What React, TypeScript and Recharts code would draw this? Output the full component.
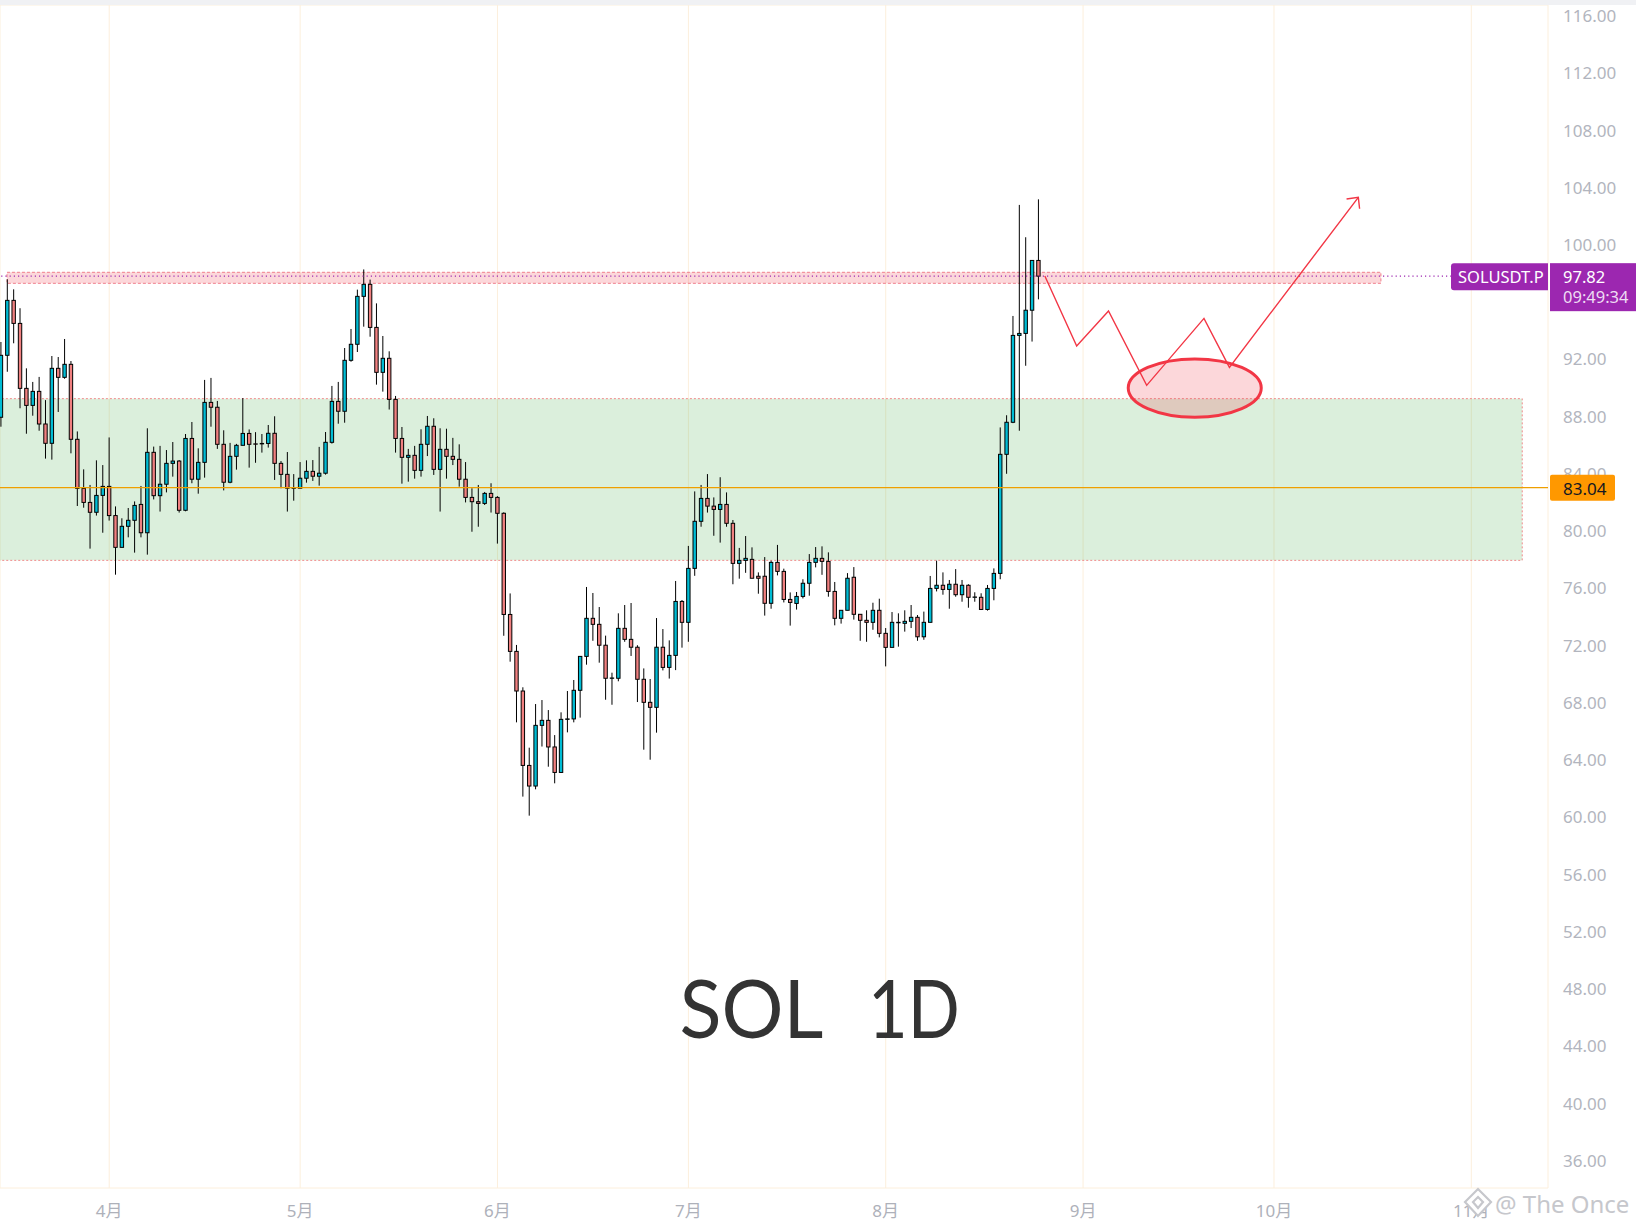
import React from 'react';
import {
  ComposedChart,
  Bar,
  Line,
  XAxis,
  YAxis,
  CartesianGrid,
  ReferenceArea,
  ReferenceLine,
} from 'recharts';

// daily candles, index 0 = 15 Mar
const opens = [
  87.96, 92.29, 96.13, 94.52, 89.98, 88.79, 89.77, 87.49, 86.14, 91.38,
  90.75, 91.66, 86.42, 82.99, 82.01, 81.32, 82.5, 83.13, 81.09, 78.87,
  80.34, 80.76, 81.87, 79.89, 85.51, 82.48, 83.28, 84.74, 84.9, 81.46,
  86.48, 83.63, 84.81, 89.0, 88.66, 86.07, 83.42, 85.23, 86.0, 86.83,
  86.1, 86.1, 86.13, 86.84, 84.74, 83.97, 83.0, 83.0, 83.7, 84.18,
  83.84, 84.05, 86.21, 89.07, 88.38, 91.94, 93.06, 96.41, 97.25, 94.24,
  91.1, 92.08, 89.21, 86.48, 85.16, 85.3, 84.25, 86.07, 87.33, 84.32,
  85.72, 85.23, 85.02, 83.63, 82.36, 82.06, 81.94, 82.64, 82.36, 81.25,
  74.18, 71.6, 68.83, 63.63, 62.19, 66.43, 66.78, 64.92, 63.14, 66.85,
  66.88, 68.88, 71.25, 73.91, 73.49, 72.03, 69.72, 69.72, 73.21, 72.44,
  71.89, 69.65, 68.04, 67.69, 71.89, 70.48, 71.32, 75.09, 73.63, 77.4,
  80.69, 82.29, 81.75, 81.52, 81.87, 80.55, 77.75, 77.96, 78.03, 76.85,
  76.85, 74.96, 77.82, 77.19, 75.23, 74.95, 75.44, 76.36, 77.82, 78.1,
  77.89, 75.79, 73.91, 74.47, 76.78, 74.19, 73.77, 73.63, 74.47, 72.86,
  71.88, 73.63, 73.56, 73.7, 73.98, 72.62, 73.63, 76.0, 76.22, 75.93,
  76.29, 75.56, 76.22, 75.38, 75.38, 74.53, 76.0, 77.05, 85.37, 87.61,
  93.68, 93.82, 95.44, 98.92,
];
const highs = [
  93.22, 97.6, 96.9, 95.58, 91.38, 90.43, 90.78, 89.16, 92.24, 92.17,
  93.43, 91.89, 86.97, 84.32, 83.23, 84.95, 84.62, 86.55, 81.73, 80.9,
  81.62, 82.08, 83.16, 87.19, 85.91, 85.96, 85.67, 86.23, 84.97, 86.79,
  87.63, 85.79, 90.57, 90.71, 89.1, 87.05, 86.17, 86.1, 89.3, 87.11,
  86.92, 86.79, 87.42, 88.03, 84.9, 85.53, 83.99, 84.83, 84.95, 84.97,
  85.89, 86.93, 90.15, 90.43, 92.8, 94.13, 96.88, 98.29, 97.58, 95.92,
  93.64, 92.57, 89.45, 87.28, 85.75, 85.96, 87.12, 88.05, 87.89, 87.19,
  87.16, 86.52, 86.07, 84.83, 83.0, 83.23, 82.74, 83.35, 82.45, 81.32,
  75.65, 72.05, 69.09, 64.87, 67.92, 68.2, 67.5, 65.75, 67.34, 68.83,
  69.6, 71.25, 76.1, 75.68, 74.7, 72.7, 70.11, 74.26, 74.84, 74.98,
  72.03, 70.41, 69.67, 73.93, 73.16, 72.37, 76.52, 75.19, 78.97, 82.78,
  83.23, 83.99, 82.36, 83.77, 82.71, 80.78, 78.83, 79.66, 78.87, 77.12,
  78.19, 77.94, 79.04, 77.38, 75.72, 75.75, 76.64, 78.4, 78.89, 78.94,
  78.52, 76.45, 74.47, 77.07, 77.49, 74.19, 74.47, 75.0, 75.28, 73.23,
  74.35, 74.26, 74.47, 74.84, 74.14, 74.38, 76.87, 77.94, 77.12, 76.59,
  77.35, 76.59, 76.29, 75.73, 75.66, 76.24, 77.4, 87.25, 88.1, 95.04,
  102.8, 100.54, 98.92, 103.19,
];
const lows = [
  87.3, 91.14, 93.13, 88.59, 86.81, 88.07, 87.02, 85.07, 85.0, 88.33,
  90.65, 85.44, 81.76, 81.64, 78.78, 81.09, 79.89, 80.74, 76.96, 78.87,
  79.57, 78.5, 79.57, 78.36, 82.22, 81.37, 82.71, 83.81, 81.3, 81.39,
  83.35, 82.62, 83.74, 87.3, 85.75, 82.85, 83.35, 84.3, 86.0, 84.44,
  84.78, 85.49, 85.84, 83.58, 83.0, 81.37, 82.13, 83.0, 83.39, 83.51,
  83.18, 83.95, 86.12, 87.51, 87.58, 91.84, 92.52, 94.29, 93.59, 90.24,
  89.75, 88.5, 85.49, 83.32, 83.46, 83.67, 83.81, 85.25, 83.93, 81.37,
  83.67, 84.62, 83.11, 82.01, 79.96, 80.31, 81.83, 81.3, 79.13, 72.69,
  70.88, 66.64, 61.45, 60.12, 61.96, 64.95, 63.54, 62.38, 63.14, 65.94,
  66.64, 66.97, 70.67, 72.34, 70.81, 68.22, 67.87, 69.51, 72.27, 71.28,
  68.06, 64.73, 64.03, 65.92, 70.27, 69.7, 70.29, 71.86, 72.27, 76.88,
  80.31, 81.3, 79.68, 79.2, 80.31, 76.29, 76.68, 77.09, 76.71, 75.63,
  74.1, 74.58, 76.91, 75.02, 73.4, 74.52, 75.3, 75.49, 77.47, 76.95,
  75.42, 73.42, 73.54, 74.47, 73.82, 72.34, 72.27, 73.11, 72.58, 70.55,
  71.88, 71.93, 72.98, 73.23, 72.34, 72.41, 73.63, 75.79, 75.56, 74.58,
  75.42, 75.07, 74.65, 75.07, 74.49, 74.45, 75.17, 76.64, 84.01, 87.55,
  87.02, 91.56, 93.25, 96.2,
];
const closes = [
  92.29, 96.13, 94.52, 89.98, 88.79, 89.77, 87.49, 86.14, 91.38, 90.75,
  91.66, 86.42, 82.99, 82.01, 81.32, 82.5, 83.13, 81.09, 78.87, 80.34,
  80.76, 81.8, 79.89, 85.51, 82.48, 83.28, 84.74, 84.9, 81.46, 86.48,
  83.63, 84.81, 89.0, 88.66, 86.07, 83.42, 85.23, 86.0, 86.83, 86.07,
  86.08, 86.13, 86.84, 84.74, 83.97, 83.0, 83.02, 83.7, 84.18, 83.84,
  84.05, 86.21, 89.07, 88.38, 91.94, 93.06, 96.41, 97.25, 94.24, 91.1,
  92.08, 89.21, 86.48, 85.16, 85.3, 84.25, 86.07, 87.33, 84.32, 85.72,
  85.23, 85.02, 83.63, 82.36, 82.06, 81.94, 82.64, 82.36, 81.25, 74.18,
  71.6, 68.83, 63.63, 62.19, 66.43, 66.78, 64.92, 63.14, 66.85, 66.88,
  68.88, 71.25, 73.91, 73.49, 72.03, 69.72, 69.74, 73.21, 72.44, 71.89,
  69.65, 68.04, 67.69, 71.89, 70.48, 71.32, 75.09, 73.63, 77.4, 80.69,
  82.29, 81.75, 81.52, 81.87, 80.55, 77.75, 77.96, 78.1, 76.71, 76.71,
  74.96, 77.82, 77.19, 75.23, 75.02, 75.44, 76.36, 77.82, 78.1, 77.89,
  75.79, 73.91, 74.47, 76.71, 74.19, 73.77, 73.63, 74.47, 72.86, 71.88,
  73.63, 73.6, 73.7, 73.98, 72.62, 73.63, 76.0, 76.22, 75.93, 76.29,
  75.56, 76.22, 75.38, 75.4, 74.53, 76.0, 77.05, 85.37, 87.61, 93.68,
  93.82, 95.44, 98.92, 97.82,
];

const monthTicks = [17, 47, 78, 108, 139, 170, 200, 231];
const monthLabels = ['4月', '5月', '6月', '7月', '8月', '9月', '10月', '11月'];
const priceTicks = [36, 40, 44, 48, 52, 56, 60, 64, 68, 72, 76, 80, 84, 88, 92, 96, 100, 104, 108, 112, 116];

const symbol = 'SOLUSDT.P';
const lastPrice = 97.82;
const countdown = '09:49:34';
const pivotPrice = 83.04;

// drawn zones / path (day index, price)
const demandIdx = [-3, 239];
const demandPrice = [77.96, 89.26];
const supplyIdx = [0.94, 216.8];
const supplyPrice = [97.32, 98.09];
const pathIdx = [164, 169, 174, 180, 189, 193, 213.25];
const pathPrice = [97.83, 92.94, 95.39, 90.19, 94.87, 91.45, 103.33];
const arrowIdx = [211.4, 213.25, 213.45];
const arrowPrice = [103.21, 103.33, 102.53];
const targetIdx = [177.1, 198];
const targetPrice = [87.96, 92.04];

const candles = opens.map((o, k) => ({ i: k, open: o, high: highs[k], low: lows[k], close: closes[k] }));
const pathData = pathIdx.map((x, k) => ({ i: x, p: pathPrice[k] }));
const arrowData = arrowIdx.map((x, k) => ({ i: x, p: arrowPrice[k] }));

const W = 1636;
const H = 1228;
const FONT = '"Noto Sans", "Noto Sans CJK SC", sans-serif';
const UP = '#00bcd4';
const DOWN = '#f08080';
const RED = '#f23645';

function Candle(props: any) {
  const { x, y, width, height, payload } = props;
  if (!payload || height == null) return null;
  const { open, close, high, low } = payload;
  const top = Math.min(y, y + height);
  const h = Math.abs(height);
  const cx = x + width / 2;
  const range = high - low || 1;
  const py = (v: number) => top + ((high - v) / range) * h;
  const bTop = py(Math.max(open, close));
  const bBot = py(Math.min(open, close));
  return (
    <g>
      <line x1={cx} x2={cx} y1={top} y2={top + h} stroke="#000" strokeWidth={1} />
      <rect
        x={cx - 1.7}
        y={bTop}
        width={3.4}
        height={Math.max(bBot - bTop, 0.3)}
        fill={close >= open ? UP : DOWN}
        stroke="#000"
        strokeWidth={1}
      />
    </g>
  );
}

function Ellipse(props: any) {
  const { x, y, width, height } = props;
  return (
    <ellipse
      cx={x + width / 2}
      cy={y + height / 2}
      rx={Math.abs(width) / 2}
      ry={Math.abs(height) / 2}
      fill="rgba(242,54,69,0.2)"
      stroke={RED}
      strokeWidth={3}
    />
  );
}

// price scale text, drawn as labels so the tags can sit on top of it
function PriceText(props: any) {
  const { viewBox, value } = props;
  if (!viewBox) return null;
  return (
    <text
      x={viewBox.x + viewBox.width + 15}
      y={viewBox.y}
      dy="0.355em"
      fontFamily={FONT}
      fontSize={17}
      fill="#b2b5be"
    >
      {value}
    </text>
  );
}

function LastPriceTag(props: any) {
  const { viewBox } = props;
  if (!viewBox) return null;
  const r = viewBox.x + viewBox.width;
  const cy = viewBox.y;
  const l = r - 97;
  return (
    <g fontFamily={FONT}>
      <path
        d={`M${l + 3},${cy - 13} H${r} V${cy + 14} H${l + 3} Q${l},${cy + 14} ${l},${cy + 11} V${cy - 10} Q${l},${cy - 13} ${l + 3},${cy - 13} Z`}
        fill="#9c27b0"
      />
      <text x={l + 7} y={cy + 6.5} fill="#fff" fontSize={16.5}>{symbol}</text>
      <rect x={r + 2} y={cy - 13} width={90} height={48} fill="#9c27b0" />
      <text x={r + 15} y={cy + 6.5} fill="#fff" fontSize={16.5}>{lastPrice.toFixed(2)}</text>
      <text x={r + 15} y={cy + 27} fill="#eedcf3" fontSize={16.5}>{countdown}</text>
    </g>
  );
}

function PivotTag(props: any) {
  const { viewBox } = props;
  if (!viewBox) return null;
  const r = viewBox.x + viewBox.width;
  const cy = viewBox.y;
  return (
    <g fontFamily={FONT}>
      <rect x={r + 2} y={cy - 13} width={65} height={26} rx={2} fill="#ff9800" />
      <text x={r + 15} y={cy + 7} fill="#131722" fontSize={17}>{pivotPrice.toFixed(2)}</text>
    </g>
  );
}

export default function App() {
  return (
    <div style={{ position: 'absolute', left: 0, top: 0, width: W, height: H, background: '#fff', overflow: 'hidden' }}>
      <ComposedChart width={W} height={H} data={candles} margin={{ top: 5, right: 0, bottom: 0, left: 0 }}>
        <CartesianGrid stroke="#fcefdc" strokeWidth={1} />
        <XAxis
          dataKey="i"
          type="number"
          domain={[-0.157, 243.05]}
          allowDataOverflow
          ticks={monthTicks}
          interval={0}
          tickFormatter={(v: number) => monthLabels[monthTicks.indexOf(v)] ?? ''}
          axisLine={false}
          tickLine={false}
          tickSize={0}
          tickMargin={17}
          height={40}
          tick={{ fontSize: 17, fill: '#aeb1ba', fontFamily: FONT }}
        />
        <YAxis
          orientation="right"
          type="number"
          domain={[34.1, 116.77]}
          allowDataOverflow
          ticks={priceTicks}
          interval={0}
          axisLine={false}
          tickLine={false}
          tick={false}
          width={88}
        />
        <ReferenceLine y={pivotPrice} stroke="#ef9f00" strokeWidth={1.2} />
        <ReferenceArea
          x1={demandIdx[0]}
          x2={demandIdx[1]}
          y1={demandPrice[0]}
          y2={demandPrice[1]}
          ifOverflow="hidden"
          fill="rgb(76,175,80)"
          fillOpacity={0.2}
          stroke="#f08a8a"
          strokeDasharray="2 2"
          strokeWidth={1}
        />
        <ReferenceArea
          x1={supplyIdx[0]}
          x2={supplyIdx[1]}
          y1={supplyPrice[0]}
          y2={supplyPrice[1]}
          ifOverflow="hidden"
          fill="rgb(242,54,69)"
          fillOpacity={0.2}
          stroke="#f0808c"
          strokeDasharray="3 2"
          strokeWidth={1}
        />
        <ReferenceLine y={lastPrice} stroke="#9c27b0" strokeWidth={1.2} strokeDasharray="1.2 3" />
        <Bar dataKey={(d: any) => [d.low, d.high]} shape={<Candle />} barSize={5} isAnimationActive={false} />
        <Line data={pathData} dataKey="p" stroke={RED} strokeWidth={1.4} dot={false} activeDot={false} isAnimationActive={false} />
        <Line data={arrowData} dataKey="p" stroke={RED} strokeWidth={1.4} dot={false} activeDot={false} isAnimationActive={false} />
        <ReferenceArea
          x1={targetIdx[0]}
          x2={targetIdx[1]}
          y1={targetPrice[0]}
          y2={targetPrice[1]}
          shape={(p: any) => <Ellipse {...p} />}
        />
        {priceTicks.map((t) => (
          <ReferenceLine key={t} y={t} stroke="none" label={<PriceText value={t.toFixed(2)} />} />
        ))}
        <ReferenceLine y={pivotPrice} stroke="none" label={<PivotTag />} />
        <ReferenceLine y={lastPrice} stroke="none" label={<LastPriceTag />} />
      </ComposedChart>
      <svg width={W} height={H} style={{ position: 'absolute', left: 0, top: 0, pointerEvents: 'none' }}>
        <rect x={0} y={0} width={W} height={5} fill="#f0f1f4" />
        <text transform="translate(679.5,1038) scale(0.945,1)" fontFamily="Lato, sans-serif" fontSize={82} fill="#333">SOL</text>
        <text transform="translate(868,1038) scale(0.835,1)" fontFamily="Lato, sans-serif" fontSize={82} fill="#333">1D</text>
        <g stroke="#c6c7cc" strokeWidth={2.2} fill="#fff">
          <path d="M1478,1189 L1491,1202 L1478,1216 L1465,1202 Z" />
          <path d="M1478,1197 L1483,1202 L1478,1208 L1473,1202 Z" />
        </g>
        <text x={1495} y={1213} fontFamily={FONT} fontSize={24} fill="#c6c7cc">@ The Once</text>
      </svg>
    </div>
  );
}
